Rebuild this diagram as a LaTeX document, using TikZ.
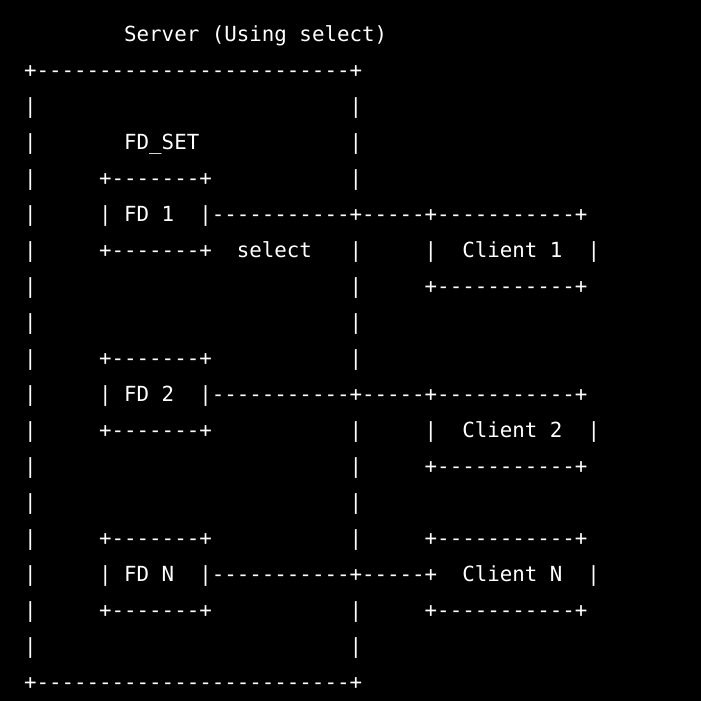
\documentclass[tikz,border=0pt]{standalone}
\usepackage{fontspec}
\setmonofont{DejaVu Sans Mono}[Ligatures=TeXOff]
\begin{document}
\begin{tikzpicture}[x=1pt,y=1pt,
  asciiline/.style={anchor=base west, inner sep=0pt, outer sep=0pt, text=white,
    font=\ttfamily\fontsize{20.8}{20.8}\selectfont}]
\fill[black] (0,0) rectangle (701,701);
\useasboundingbox (0,0) rectangle (701,701);
\def\lx{24}
\newcommand{\asciirow}[3]{\node[asciiline] (#1) at (\lx,{701-41.5-36*(#2-1)}) {#3};}
\asciirow{l1}{1}{~~~~~~~~Server~(Using~select)}
\asciirow{l2}{2}{+-------------------------+}
\asciirow{l3}{3}{|~~~~~~~~~~~~~~~~~~~~~~~~~|}
\asciirow{l4}{4}{|~~~~~~~FD\_SET~~~~~~~~~~~~|}
\asciirow{l5}{5}{|~~~~~+-------+~~~~~~~~~~~|}
\asciirow{l6}{6}{|~~~~~|~FD~1~~|-----------+-----+-----------+}
\asciirow{l7}{7}{|~~~~~+-------+~~select~~~|~~~~~|~~Client~1~~|}
\asciirow{l8}{8}{|~~~~~~~~~~~~~~~~~~~~~~~~~|~~~~~+-----------+}
\asciirow{l9}{9}{|~~~~~~~~~~~~~~~~~~~~~~~~~|}
\asciirow{l10}{10}{|~~~~~+-------+~~~~~~~~~~~|}
\asciirow{l11}{11}{|~~~~~|~FD~2~~|-----------+-----+-----------+}
\asciirow{l12}{12}{|~~~~~+-------+~~~~~~~~~~~|~~~~~|~~Client~2~~|}
\asciirow{l13}{13}{|~~~~~~~~~~~~~~~~~~~~~~~~~|~~~~~+-----------+}
\asciirow{l14}{14}{|~~~~~~~~~~~~~~~~~~~~~~~~~|}
\asciirow{l15}{15}{|~~~~~+-------+~~~~~~~~~~~|~~~~~+-----------+}
\asciirow{l16}{16}{|~~~~~|~FD~N~~|-----------+-----+~~Client~N~~|}
\asciirow{l17}{17}{|~~~~~+-------+~~~~~~~~~~~|~~~~~+-----------+}
\asciirow{l18}{18}{|~~~~~~~~~~~~~~~~~~~~~~~~~|}
\asciirow{l19}{19}{+-------------------------+}
\end{tikzpicture}
\end{document}
